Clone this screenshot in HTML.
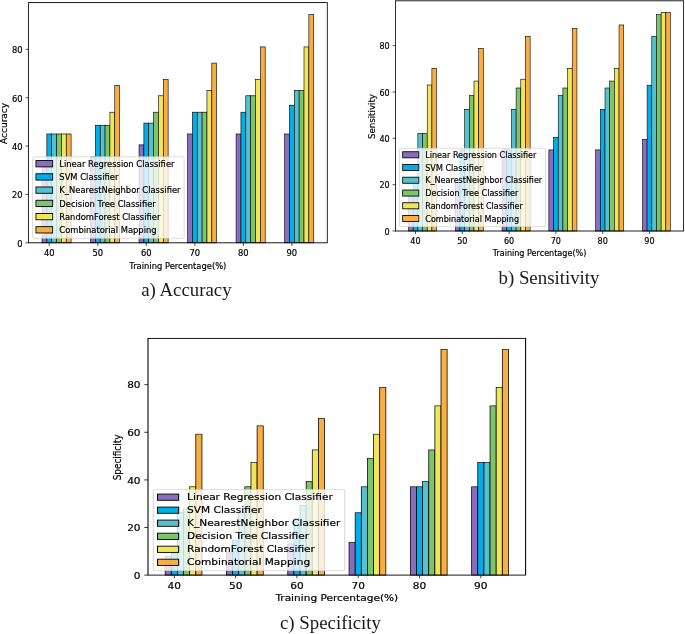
<!DOCTYPE html>
<html><head><meta charset="utf-8"><title>Figure</title>
<style>
html,body{margin:0;padding:0;background:#fff;}
body{width:685px;height:634px;overflow:hidden;}
svg{display:block;filter:blur(0.5px);}
</style></head>
<body>
<svg width="685" height="634" viewBox="0 0 685 634">
<rect width="685" height="634" fill="#fff"/>
<g transform="translate(-19.810,-34.834) scale(0.60262,0.64989)">
<g stroke="#000" stroke-width="1.0" stroke-linejoin="miter">
<rect x="102.55" y="308.13" width="8.05" height="119.07" fill="#8B6DBF"/>
<rect x="110.60" y="259.76" width="8.05" height="167.44" fill="#00AEE8"/>
<rect x="118.65" y="259.76" width="8.05" height="167.44" fill="#55C0D0"/>
<rect x="126.70" y="259.76" width="8.05" height="167.44" fill="#7DC46A"/>
<rect x="134.75" y="259.76" width="8.05" height="167.44" fill="#F0E65A"/>
<rect x="142.81" y="259.76" width="8.05" height="167.44" fill="#F9AE45"/>
<rect x="183.06" y="295.11" width="8.05" height="132.09" fill="#8B6DBF"/>
<rect x="191.12" y="246.36" width="8.05" height="180.84" fill="#00AEE8"/>
<rect x="199.17" y="246.36" width="8.05" height="180.84" fill="#55C0D0"/>
<rect x="207.22" y="246.36" width="8.05" height="180.84" fill="#7DC46A"/>
<rect x="215.27" y="226.27" width="8.05" height="200.93" fill="#F0E65A"/>
<rect x="223.32" y="185.34" width="8.05" height="241.86" fill="#F9AE45"/>
<rect x="263.58" y="276.50" width="8.05" height="150.70" fill="#8B6DBF"/>
<rect x="271.64" y="243.01" width="8.05" height="184.19" fill="#00AEE8"/>
<rect x="279.69" y="243.01" width="8.05" height="184.19" fill="#55C0D0"/>
<rect x="287.74" y="226.27" width="8.05" height="200.93" fill="#7DC46A"/>
<rect x="295.79" y="200.97" width="8.05" height="226.23" fill="#F0E65A"/>
<rect x="303.84" y="176.04" width="8.05" height="251.16" fill="#F9AE45"/>
<rect x="344.10" y="259.76" width="8.05" height="167.44" fill="#8B6DBF"/>
<rect x="352.16" y="226.27" width="8.05" height="200.93" fill="#00AEE8"/>
<rect x="360.21" y="226.27" width="8.05" height="200.93" fill="#55C0D0"/>
<rect x="368.26" y="226.27" width="8.05" height="200.93" fill="#7DC46A"/>
<rect x="376.31" y="192.78" width="8.05" height="234.42" fill="#F0E65A"/>
<rect x="384.36" y="150.73" width="8.05" height="276.47" fill="#F9AE45"/>
<rect x="424.62" y="259.76" width="8.05" height="167.44" fill="#8B6DBF"/>
<rect x="432.68" y="226.27" width="8.05" height="200.93" fill="#00AEE8"/>
<rect x="440.73" y="200.97" width="8.05" height="226.23" fill="#55C0D0"/>
<rect x="448.78" y="200.97" width="8.05" height="226.23" fill="#7DC46A"/>
<rect x="456.83" y="176.04" width="8.05" height="251.16" fill="#F0E65A"/>
<rect x="464.88" y="125.80" width="8.05" height="301.40" fill="#F9AE45"/>
<rect x="505.14" y="259.76" width="8.05" height="167.44" fill="#8B6DBF"/>
<rect x="513.19" y="215.48" width="8.05" height="211.72" fill="#00AEE8"/>
<rect x="521.25" y="192.78" width="8.05" height="234.42" fill="#55C0D0"/>
<rect x="529.30" y="192.78" width="8.05" height="234.42" fill="#7DC46A"/>
<rect x="537.35" y="125.80" width="8.05" height="301.40" fill="#F0E65A"/>
<rect x="545.40" y="76.13" width="8.05" height="351.07" fill="#F9AE45"/>
</g>
<rect x="80.0" y="57.6" width="496.0" height="369.60" fill="none" stroke="#000" stroke-width="1.4"/>
<g stroke="#000" stroke-width="1.11">
<line x1="114.62" y1="427.2" x2="114.62" y2="432.06"/>
<line x1="195.14" y1="427.2" x2="195.14" y2="432.06"/>
<line x1="275.66" y1="427.2" x2="275.66" y2="432.06"/>
<line x1="356.18" y1="427.2" x2="356.18" y2="432.06"/>
<line x1="436.70" y1="427.2" x2="436.70" y2="432.06"/>
<line x1="517.22" y1="427.2" x2="517.22" y2="432.06"/>
<line x1="80.0" y1="427.20" x2="75.14" y2="427.20"/>
<line x1="80.0" y1="352.78" x2="75.14" y2="352.78"/>
<line x1="80.0" y1="278.36" x2="75.14" y2="278.36"/>
<line x1="80.0" y1="203.94" x2="75.14" y2="203.94"/>
<line x1="80.0" y1="129.53" x2="75.14" y2="129.53"/>
</g>
<g font-family="'DejaVu Sans', 'Liberation Sans', sans-serif" font-size="13.889" fill="#000" stroke="#000" stroke-width="0.3">
<text x="114.62" y="448.22" text-anchor="middle">40</text>
<text x="195.14" y="448.22" text-anchor="middle">50</text>
<text x="275.66" y="448.22" text-anchor="middle">60</text>
<text x="356.18" y="448.22" text-anchor="middle">70</text>
<text x="436.70" y="448.22" text-anchor="middle">80</text>
<text x="517.22" y="448.22" text-anchor="middle">90</text>
<text x="70.28" y="433.10" text-anchor="end">0</text>
<text x="70.28" y="358.68" text-anchor="end">20</text>
<text x="70.28" y="284.26" text-anchor="end">40</text>
<text x="70.28" y="209.84" text-anchor="end">60</text>
<text x="70.28" y="135.43" text-anchor="end">80</text>
<text x="328.00" y="467.48" text-anchor="middle">Training Percentage(%)</text>
<text transform="translate(44.1,243.50) rotate(-90)" text-anchor="middle">Accuracy</text>
</g>
<rect x="86.94" y="294.87" width="251.50" height="125.39" rx="2.8" ry="2.8" fill="#fff" fill-opacity="0.8" stroke="#ccc" stroke-opacity="0.8" stroke-width="1.39"/>
<g font-family="'DejaVu Sans', 'Liberation Sans', sans-serif" font-size="13.889" fill="#000" stroke-width="0.3">
<rect x="92.50" y="300.66" width="27.78" height="9.72" fill="#8B6DBF" stroke="#000" stroke-width="1.39"/>
<text x="131.39" y="310.39" stroke="#000">Linear Regression Classifier</text>
<rect x="92.50" y="320.98" width="27.78" height="9.72" fill="#00AEE8" stroke="#000" stroke-width="1.39"/>
<text x="131.39" y="330.70" stroke="#000">SVM Classifier</text>
<rect x="92.50" y="341.30" width="27.78" height="9.72" fill="#55C0D0" stroke="#000" stroke-width="1.39"/>
<text x="131.39" y="351.02" stroke="#000">K_NearestNeighbor Classifier</text>
<rect x="92.50" y="361.75" width="27.78" height="9.72" fill="#7DC46A" stroke="#000" stroke-width="1.39"/>
<text x="131.39" y="371.47" stroke="#000">Decision Tree Classifier</text>
<rect x="92.50" y="382.06" width="27.78" height="9.72" fill="#F0E65A" stroke="#000" stroke-width="1.39"/>
<text x="131.39" y="391.79" stroke="#000">RandomForest Classifier</text>
<rect x="92.50" y="402.38" width="27.78" height="9.72" fill="#F9AE45" stroke="#000" stroke-width="1.39"/>
<text x="131.39" y="412.10" stroke="#000">Combinatorial Mapping</text>
</g>
</g>
<g transform="translate(348.916,-35.075) scale(0.58105,0.62284)">
<g stroke="#000" stroke-width="1.0" stroke-linejoin="miter">
<rect x="102.55" y="362.08" width="8.05" height="65.12" fill="#8B6DBF"/>
<rect x="110.60" y="349.06" width="8.05" height="78.14" fill="#00AEE8"/>
<rect x="118.65" y="270.92" width="8.05" height="156.28" fill="#55C0D0"/>
<rect x="126.70" y="270.92" width="8.05" height="156.28" fill="#7DC46A"/>
<rect x="134.75" y="192.78" width="8.05" height="234.42" fill="#F0E65A"/>
<rect x="142.81" y="165.99" width="8.05" height="261.21" fill="#F9AE45"/>
<rect x="183.06" y="349.06" width="8.05" height="78.14" fill="#8B6DBF"/>
<rect x="191.12" y="296.97" width="8.05" height="130.23" fill="#00AEE8"/>
<rect x="199.17" y="231.85" width="8.05" height="195.35" fill="#55C0D0"/>
<rect x="207.22" y="209.90" width="8.05" height="217.30" fill="#7DC46A"/>
<rect x="215.27" y="186.46" width="8.05" height="240.74" fill="#F0E65A"/>
<rect x="223.32" y="133.99" width="8.05" height="293.21" fill="#F9AE45"/>
<rect x="263.58" y="296.97" width="8.05" height="130.23" fill="#8B6DBF"/>
<rect x="271.64" y="296.97" width="8.05" height="130.23" fill="#00AEE8"/>
<rect x="279.69" y="231.85" width="8.05" height="195.35" fill="#55C0D0"/>
<rect x="287.74" y="197.62" width="8.05" height="229.58" fill="#7DC46A"/>
<rect x="295.79" y="183.48" width="8.05" height="243.72" fill="#F0E65A"/>
<rect x="303.84" y="114.64" width="8.05" height="312.56" fill="#F9AE45"/>
<rect x="344.10" y="296.97" width="8.05" height="130.23" fill="#8B6DBF"/>
<rect x="352.16" y="277.25" width="8.05" height="149.95" fill="#00AEE8"/>
<rect x="360.21" y="209.90" width="8.05" height="217.30" fill="#55C0D0"/>
<rect x="368.26" y="197.62" width="8.05" height="229.58" fill="#7DC46A"/>
<rect x="376.31" y="165.99" width="8.05" height="261.21" fill="#F0E65A"/>
<rect x="384.36" y="101.99" width="8.05" height="325.21" fill="#F9AE45"/>
<rect x="424.62" y="296.97" width="8.05" height="130.23" fill="#8B6DBF"/>
<rect x="432.68" y="231.85" width="8.05" height="195.35" fill="#00AEE8"/>
<rect x="440.73" y="197.62" width="8.05" height="229.58" fill="#55C0D0"/>
<rect x="448.78" y="186.46" width="8.05" height="240.74" fill="#7DC46A"/>
<rect x="456.83" y="165.99" width="8.05" height="261.21" fill="#F0E65A"/>
<rect x="464.88" y="96.41" width="8.05" height="330.79" fill="#F9AE45"/>
<rect x="505.14" y="280.22" width="8.05" height="146.98" fill="#8B6DBF"/>
<rect x="513.19" y="193.15" width="8.05" height="234.05" fill="#00AEE8"/>
<rect x="521.25" y="114.64" width="8.05" height="312.56" fill="#55C0D0"/>
<rect x="529.30" y="79.67" width="8.05" height="347.53" fill="#7DC46A"/>
<rect x="537.35" y="76.32" width="8.05" height="350.88" fill="#F0E65A"/>
<rect x="545.40" y="76.32" width="8.05" height="350.88" fill="#F9AE45"/>
</g>
<rect x="80.0" y="57.6" width="496.0" height="369.60" fill="none" stroke="#000" stroke-width="1.4"/>
<g stroke="#000" stroke-width="1.11">
<line x1="114.62" y1="427.2" x2="114.62" y2="432.06"/>
<line x1="195.14" y1="427.2" x2="195.14" y2="432.06"/>
<line x1="275.66" y1="427.2" x2="275.66" y2="432.06"/>
<line x1="356.18" y1="427.2" x2="356.18" y2="432.06"/>
<line x1="436.70" y1="427.2" x2="436.70" y2="432.06"/>
<line x1="517.22" y1="427.2" x2="517.22" y2="432.06"/>
<line x1="80.0" y1="427.20" x2="75.14" y2="427.20"/>
<line x1="80.0" y1="352.78" x2="75.14" y2="352.78"/>
<line x1="80.0" y1="278.36" x2="75.14" y2="278.36"/>
<line x1="80.0" y1="203.94" x2="75.14" y2="203.94"/>
<line x1="80.0" y1="129.53" x2="75.14" y2="129.53"/>
</g>
<g font-family="'DejaVu Sans', 'Liberation Sans', sans-serif" font-size="13.889" fill="#000" stroke="#000" stroke-width="0.3">
<text x="114.62" y="448.22" text-anchor="middle">40</text>
<text x="195.14" y="448.22" text-anchor="middle">50</text>
<text x="275.66" y="448.22" text-anchor="middle">60</text>
<text x="356.18" y="448.22" text-anchor="middle">70</text>
<text x="436.70" y="448.22" text-anchor="middle">80</text>
<text x="517.22" y="448.22" text-anchor="middle">90</text>
<text x="70.28" y="433.10" text-anchor="end">0</text>
<text x="70.28" y="358.68" text-anchor="end">20</text>
<text x="70.28" y="284.26" text-anchor="end">40</text>
<text x="70.28" y="209.84" text-anchor="end">60</text>
<text x="70.28" y="135.43" text-anchor="end">80</text>
<text x="328.00" y="467.48" text-anchor="middle">Training Percentage(%)</text>
<text transform="translate(44.1,243.50) rotate(-90)" text-anchor="middle">Sensitivity</text>
</g>
<rect x="86.94" y="294.42" width="251.50" height="125.84" rx="2.8" ry="2.8" fill="#fff" fill-opacity="0.8" stroke="#ccc" stroke-opacity="0.8" stroke-width="1.39"/>
<g font-family="'DejaVu Sans', 'Liberation Sans', sans-serif" font-size="13.889" fill="#000" stroke-width="0.3">
<rect x="92.50" y="299.95" width="27.78" height="9.72" fill="#8B6DBF" stroke="#000" stroke-width="1.39"/>
<text x="131.39" y="309.68" stroke="#000">Linear Regression Classifier</text>
<rect x="92.50" y="320.40" width="27.78" height="9.72" fill="#00AEE8" stroke="#000" stroke-width="1.39"/>
<text x="131.39" y="330.12" stroke="#000">SVM Classifier</text>
<rect x="92.50" y="340.84" width="27.78" height="9.72" fill="#55C0D0" stroke="#000" stroke-width="1.39"/>
<text x="131.39" y="350.56" stroke="#000">K_NearestNeighbor Classifier</text>
<rect x="92.50" y="361.42" width="27.78" height="9.72" fill="#7DC46A" stroke="#000" stroke-width="1.39"/>
<text x="131.39" y="371.14" stroke="#000">Decision Tree Classifier</text>
<rect x="92.50" y="381.86" width="27.78" height="9.72" fill="#F0E65A" stroke="#000" stroke-width="1.39"/>
<text x="131.39" y="391.58" stroke="#000">RandomForest Classifier</text>
<rect x="92.50" y="402.30" width="27.78" height="9.72" fill="#F9AE45" stroke="#000" stroke-width="1.39"/>
<text x="131.39" y="412.02" stroke="#000">Combinatorial Mapping</text>
</g>
</g>
<g transform="translate(87.097,301.512) scale(0.76129,0.64042)">
<g stroke="#000" stroke-width="1.0" stroke-linejoin="miter">
<rect x="102.55" y="397.84" width="8.05" height="29.36" fill="#8B6DBF"/>
<rect x="110.60" y="393.75" width="8.05" height="33.45" fill="#00AEE8"/>
<rect x="118.65" y="329.46" width="8.05" height="97.74" fill="#55C0D0"/>
<rect x="126.70" y="323.88" width="8.05" height="103.32" fill="#7DC46A"/>
<rect x="134.75" y="289.32" width="8.05" height="137.88" fill="#F0E65A"/>
<rect x="142.81" y="207.19" width="8.05" height="220.01" fill="#F9AE45"/>
<rect x="183.06" y="392.27" width="8.05" height="34.93" fill="#8B6DBF"/>
<rect x="191.12" y="372.94" width="8.05" height="54.26" fill="#00AEE8"/>
<rect x="199.17" y="329.46" width="8.05" height="97.74" fill="#55C0D0"/>
<rect x="207.22" y="289.32" width="8.05" height="137.88" fill="#7DC46A"/>
<rect x="215.27" y="251.41" width="8.05" height="175.79" fill="#F0E65A"/>
<rect x="223.32" y="194.18" width="8.05" height="233.02" fill="#F9AE45"/>
<rect x="263.58" y="378.51" width="8.05" height="48.69" fill="#8B6DBF"/>
<rect x="271.64" y="338.75" width="8.05" height="88.45" fill="#00AEE8"/>
<rect x="279.69" y="318.31" width="8.05" height="108.89" fill="#55C0D0"/>
<rect x="287.74" y="280.77" width="8.05" height="146.43" fill="#7DC46A"/>
<rect x="295.79" y="231.72" width="8.05" height="195.48" fill="#F0E65A"/>
<rect x="303.84" y="182.66" width="8.05" height="244.54" fill="#F9AE45"/>
<rect x="344.10" y="375.91" width="8.05" height="51.29" fill="#8B6DBF"/>
<rect x="352.16" y="329.83" width="8.05" height="97.37" fill="#00AEE8"/>
<rect x="360.21" y="289.32" width="8.05" height="137.88" fill="#55C0D0"/>
<rect x="368.26" y="244.72" width="8.05" height="182.48" fill="#7DC46A"/>
<rect x="376.31" y="207.19" width="8.05" height="220.01" fill="#F0E65A"/>
<rect x="384.36" y="133.97" width="8.05" height="293.23" fill="#F9AE45"/>
<rect x="424.62" y="289.32" width="8.05" height="137.88" fill="#8B6DBF"/>
<rect x="432.68" y="289.32" width="8.05" height="137.88" fill="#00AEE8"/>
<rect x="440.73" y="281.14" width="8.05" height="146.06" fill="#55C0D0"/>
<rect x="448.78" y="231.72" width="8.05" height="195.48" fill="#7DC46A"/>
<rect x="456.83" y="162.96" width="8.05" height="264.24" fill="#F0E65A"/>
<rect x="464.88" y="74.88" width="8.05" height="352.32" fill="#F9AE45"/>
<rect x="505.14" y="289.32" width="8.05" height="137.88" fill="#8B6DBF"/>
<rect x="513.19" y="251.41" width="8.05" height="175.79" fill="#00AEE8"/>
<rect x="521.25" y="251.41" width="8.05" height="175.79" fill="#55C0D0"/>
<rect x="529.30" y="162.96" width="8.05" height="264.24" fill="#7DC46A"/>
<rect x="537.35" y="133.97" width="8.05" height="293.23" fill="#F0E65A"/>
<rect x="545.40" y="74.88" width="8.05" height="352.32" fill="#F9AE45"/>
</g>
<rect x="80.0" y="57.6" width="496.0" height="369.60" fill="none" stroke="#000" stroke-width="1.4"/>
<g stroke="#000" stroke-width="1.11">
<line x1="114.62" y1="427.2" x2="114.62" y2="432.06"/>
<line x1="195.14" y1="427.2" x2="195.14" y2="432.06"/>
<line x1="275.66" y1="427.2" x2="275.66" y2="432.06"/>
<line x1="356.18" y1="427.2" x2="356.18" y2="432.06"/>
<line x1="436.70" y1="427.2" x2="436.70" y2="432.06"/>
<line x1="517.22" y1="427.2" x2="517.22" y2="432.06"/>
<line x1="80.0" y1="427.20" x2="75.14" y2="427.20"/>
<line x1="80.0" y1="352.87" x2="75.14" y2="352.87"/>
<line x1="80.0" y1="278.54" x2="75.14" y2="278.54"/>
<line x1="80.0" y1="204.21" x2="75.14" y2="204.21"/>
<line x1="80.0" y1="129.88" x2="75.14" y2="129.88"/>
</g>
<g font-family="'DejaVu Sans', 'Liberation Sans', sans-serif" font-size="13.889" fill="#000" stroke="#000" stroke-width="0.3">
<text x="114.62" y="448.22" text-anchor="middle">40</text>
<text x="195.14" y="448.22" text-anchor="middle">50</text>
<text x="275.66" y="448.22" text-anchor="middle">60</text>
<text x="356.18" y="448.22" text-anchor="middle">70</text>
<text x="436.70" y="448.22" text-anchor="middle">80</text>
<text x="517.22" y="448.22" text-anchor="middle">90</text>
<text x="70.28" y="433.10" text-anchor="end">0</text>
<text x="70.28" y="358.77" text-anchor="end">20</text>
<text x="70.28" y="284.44" text-anchor="end">40</text>
<text x="70.28" y="210.11" text-anchor="end">60</text>
<text x="70.28" y="135.78" text-anchor="end">80</text>
<text x="328.00" y="467.48" text-anchor="middle">Training Percentage(%)</text>
<text transform="translate(44.1,243.50) rotate(-90)" text-anchor="middle">Specificity</text>
</g>
<rect x="86.94" y="293.69" width="251.50" height="126.56" rx="2.8" ry="2.8" fill="#fff" fill-opacity="0.8" stroke="#ccc" stroke-opacity="0.8" stroke-width="1.39"/>
<g font-family="'DejaVu Sans', 'Liberation Sans', sans-serif" font-size="13.889" fill="#000" stroke-width="0.3">
<rect x="92.50" y="300.66" width="27.78" height="9.72" fill="#8B6DBF" stroke="#000" stroke-width="1.39"/>
<text x="131.39" y="310.39" stroke="#000">Linear Regression Classifier</text>
<rect x="92.50" y="320.98" width="27.78" height="9.72" fill="#00AEE8" stroke="#000" stroke-width="1.39"/>
<text x="131.39" y="330.70" stroke="#000">SVM Classifier</text>
<rect x="92.50" y="341.30" width="27.78" height="9.72" fill="#55C0D0" stroke="#000" stroke-width="1.39"/>
<text x="131.39" y="351.02" stroke="#000">K_NearestNeighbor Classifier</text>
<rect x="92.50" y="361.75" width="27.78" height="9.72" fill="#7DC46A" stroke="#000" stroke-width="1.39"/>
<text x="131.39" y="371.47" stroke="#000">Decision Tree Classifier</text>
<rect x="92.50" y="382.06" width="27.78" height="9.72" fill="#F0E65A" stroke="#000" stroke-width="1.39"/>
<text x="131.39" y="391.79" stroke="#000">RandomForest Classifier</text>
<rect x="92.50" y="402.38" width="27.78" height="9.72" fill="#F9AE45" stroke="#000" stroke-width="1.39"/>
<text x="131.39" y="412.10" stroke="#000">Combinatorial Mapping</text>
</g>
</g>
<g font-family="'Liberation Serif', 'Times New Roman', serif" font-size="18.85" fill="#1a1a1a">
<text x="186.4" y="296.2" text-anchor="middle">a) Accuracy</text>
<text x="549" y="284" text-anchor="middle">b) Sensitivity</text>
<text x="330.5" y="628.6" text-anchor="middle">c) Specificity</text>
</g>
</svg>
</body></html>
